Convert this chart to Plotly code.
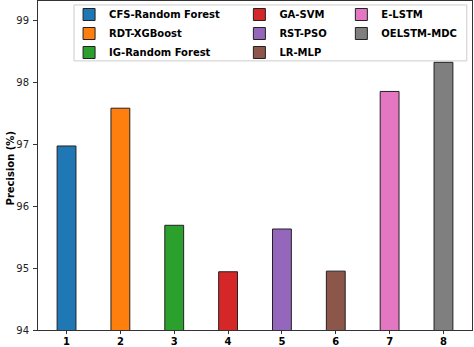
import plotly.graph_objects as go

categories = ["1", "2", "3", "4", "5", "6", "7", "8"]
models = ["CFS-Random Forest", "RDT-XGBoost", "IG-Random Forest", "GA-SVM",
          "RST-PSO", "LR-MLP", "E-LSTM", "OELSTM-MDC"]
precision = [96.97, 97.58, 95.69, 94.94, 95.63, 94.95, 97.85, 98.32]
colors = ["#1f77b4", "#ff7f0e", "#2ca02c", "#d62728",
          "#9467bd", "#8c564b", "#e377c2", "#7f7f7f"]
legend_ids = ["legend", "legend", "legend", "legend2", "legend2", "legend2", "legend3", "legend3"]
y_title = "Precision (%)"

fig = go.Figure()
for i, (cat, m, v, c) in enumerate(zip(categories, models, precision, colors)):
    fig.add_trace(go.Bar(
        x=[i + 1], y=[v], name=m, width=0.35,
        marker=dict(color=c, line=dict(color="#222222", width=1)),
        legend=legend_ids[i],
    ))

font_leg = dict(family="DejaVu Sans", size=10, color="black", weight="bold")
leg_common = dict(bgcolor="rgba(0,0,0,0)", borderwidth=0, font=font_leg,
                  yanchor="top", xanchor="left", tracegroupgap=0,
                  itemwidth=30, orientation="v", y=1.003)

fig.update_layout(
    width=474, height=347,
    margin=dict(l=38, r=2, t=1, b=17, autoexpand=False),
    plot_bgcolor="white", paper_bgcolor="white",
    barmode="overlay",
    font=dict(family="DejaVu Sans", size=10, color="black"),
    xaxis=dict(range=[0.47, 8.53], tickmode="array", automargin=False,
               tickvals=list(range(1, 9)), ticktext=categories,
               tickfont=dict(family="DejaVu Sans", size=10, color="black", weight="bold"),
               showline=True, linecolor="#333", linewidth=1, mirror=True,
               ticks="outside", ticklen=3, tickcolor="#333", ticklabelstandoff=-1,
               showgrid=False, zeroline=False),
    yaxis=dict(range=[94, 99.31], dtick=1, tick0=94, automargin=False,
               tickfont=dict(family="DejaVu Sans", size=10, color="#222"),
               showline=True, linecolor="#333", linewidth=1, mirror=True,
               ticks="outside", ticklen=4, tickcolor="#333", ticklabelstandoff=2,
               showgrid=False, zeroline=False),
    legend=dict(x=0.0716, **leg_common),
    legend2=dict(x=0.464, **leg_common),
    legend3=dict(x=0.699, **leg_common),
    annotations=[dict(text=y_title, xref="paper", yref="paper", x=-0.063, y=0.49,
                      textangle=-90, showarrow=False, xanchor="center", yanchor="middle",
                      font=dict(family="DejaVu Sans", size=10, color="black", weight="bold"))],
    shapes=[dict(type="rect", xref="paper", yref="paper",
                 x0=0.083, x1=0.988, y0=0.818, y1=0.988,
                 line=dict(color="#cccccc", width=1), fillcolor="rgba(255,255,255,0.8)",
                 layer="below")],
)

fig.write_html("out.html")
